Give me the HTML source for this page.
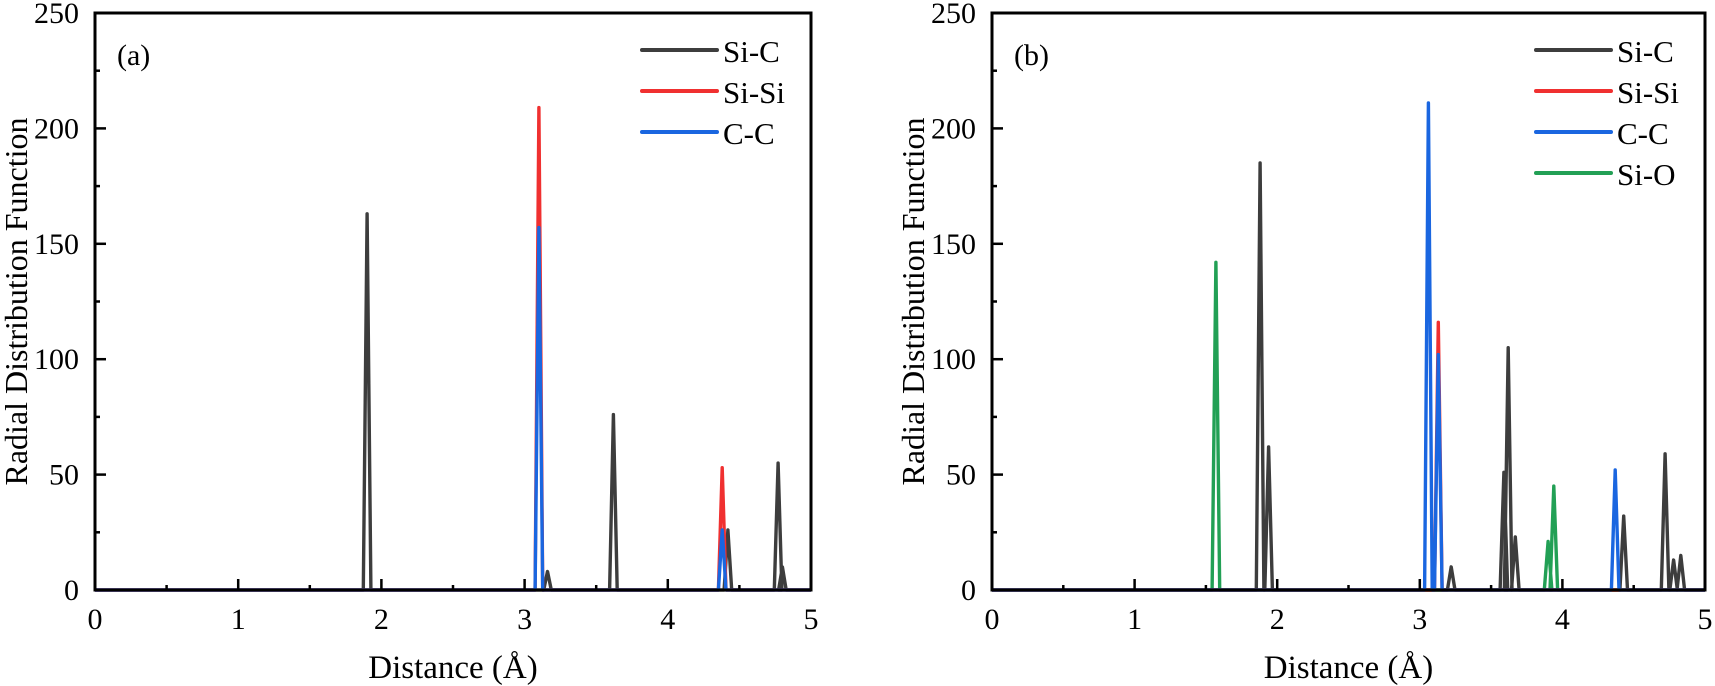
<!DOCTYPE html>
<html><head><meta charset="utf-8"><style>
html,body{margin:0;padding:0;background:#fff;}
svg{display:block;font-family:"Liberation Serif",serif;}
</style></head><body>
<svg id="s" width="1715" height="686" xmlns="http://www.w3.org/2000/svg"></svg>
<script>
const S=document.getElementById('s');let h='';
const Y0=590,YT=13;
function panel(x0,x5,lab,peaks,legend){
  const sx=v=>x0+(x5-x0)*v/5, sy=v=>Y0-(Y0-YT)*v/250;
  for(const [col,list] of peaks){
    let d='M'+sx(0)+','+Y0;
    list.sort((a,b)=>a[0]-b[0]);
    for(const [c,hgt] of list){
      d+=' L'+(sx(c)-3.8).toFixed(1)+','+Y0+' L'+sx(c).toFixed(1)+','+sy(hgt).toFixed(1)+' L'+(sx(c)+3.8).toFixed(1)+','+Y0;
    }
    d+=' L'+sx(5)+','+Y0;
    h+=`<path d="${d}" fill="none" stroke="${col}" stroke-width="3.4" stroke-linejoin="round"/>`;
  }
  h+=`<rect x="${x0}" y="${YT}" width="${x5-x0}" height="${Y0-YT}" fill="none" stroke="#000" stroke-width="3"/>`;
  for(let i=0;i<=10;i++){const x=sx(i*0.5),L=i%2?5:11;
    h+=`<line x1="${x}" y1="${Y0}" x2="${x}" y2="${Y0-L}" stroke="#000" stroke-width="2.5"/>`;
    if(i%2==0)h+=`<text x="${x}" y="629" font-size="30" text-anchor="middle">${i/2}</text>`;}
  for(let i=0;i<=10;i++){const y=sy(i*25),L=i%2?5:11;
    h+=`<line x1="${x0}" y1="${y}" x2="${x0+L}" y2="${y}" stroke="#000" stroke-width="2.5"/>`;
    if(i%2==0)h+=`<text x="${x0-16}" y="${y+10}" font-size="30" text-anchor="end">${i*25}</text>`;}
  h+=`<text x="${(x0+x5)/2}" y="678" font-size="33" text-anchor="middle">Distance (Å)</text>`;
  h+=`<text transform="translate(${x0-68},${(Y0+YT)/2}) rotate(-90)" font-size="32" text-anchor="middle">Radial Distribution Function</text>`;
  h+=`<text x="${x0+22}" y="65" font-size="30">${lab}</text>`;
  legend.forEach(([col,t],i)=>{const y=50+i*41;
    h+=`<line x1="${x5-169}" y1="${y}" x2="${x5-94}" y2="${y}" stroke="${col}" stroke-width="4" stroke-linecap="round"/>`;
    h+=`<text x="${x5-88}" y="${y+12}" font-size="31">${t}</text>`;});
}
const K='#3d3d3d',R='#f03030',B='#1a66e0',G='#22a055';
panel(95,811,'(a)',[
 [K,[[1.9,163],[3.16,8],[3.62,76],[4.42,26],[4.77,55],[4.8,10]]],
 [R,[[3.1,209],[4.38,53]]],
 [B,[[3.1,157],[4.38,26]]]
],[[K,'Si-C'],[R,'Si-Si'],[B,'C-C']]);
panel(992,1705,'(b)',[
 [G,[[1.57,142],[3.9,21],[3.94,45]]],
 [K,[[1.88,185],[1.94,62],[3.22,10],[3.59,51],[3.62,105],[3.67,23],[4.43,32],[4.72,59],[4.78,13],[4.83,15]]],
 [R,[[3.13,116]]],
 [B,[[3.06,211],[3.13,102],[4.37,52]]]
],[[K,'Si-C'],[R,'Si-Si'],[B,'C-C'],[G,'Si-O']]);
S.innerHTML=h;
</script>
</body></html>
